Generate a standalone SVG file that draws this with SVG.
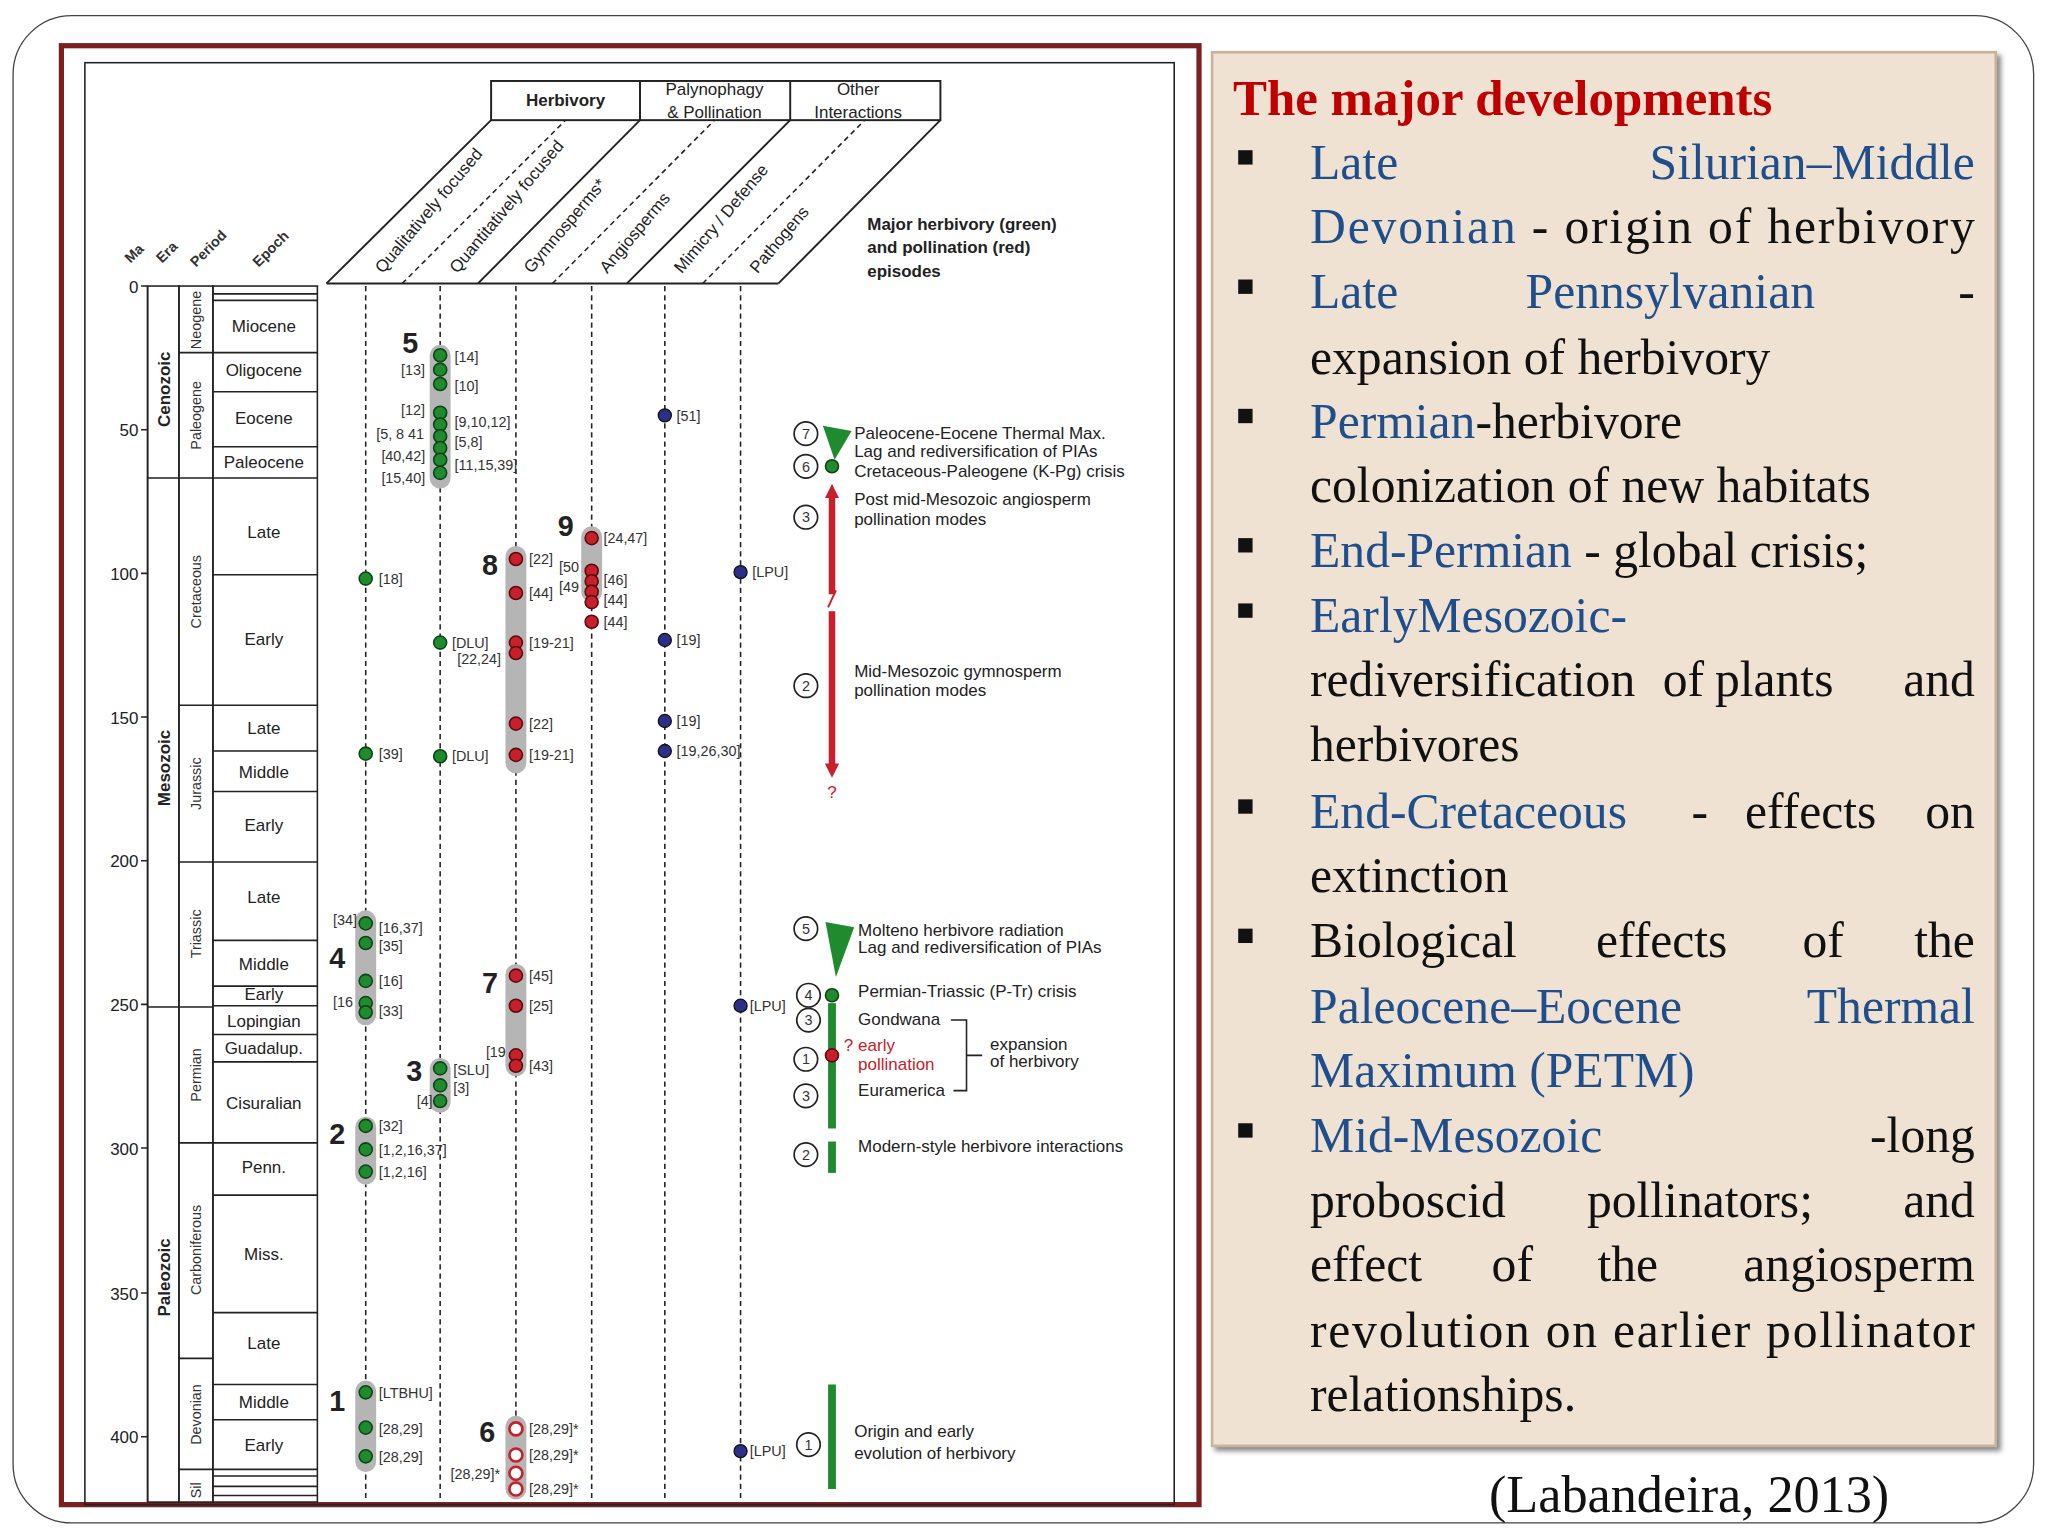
<svg xmlns="http://www.w3.org/2000/svg" width="2048" height="1536" viewBox="0 0 2048 1536">
<defs>
<style>
.s{font-family:"Liberation Sans",Arial,sans-serif;font-size:13px;fill:#222}
.sm{font-family:"Liberation Sans",Arial,sans-serif;font-size:11px;fill:#333}
.b{font-weight:bold}
.num{font-family:"Liberation Sans",Arial,sans-serif;font-size:22px;font-weight:bold;fill:#222}
.t{font-family:"Liberation Serif","Times New Roman",serif;font-size:38px;fill:#111}
.bl{fill:#1f4e8c}
.dash{stroke:#222;stroke-width:1.2;stroke-dasharray:4 3;fill:none}
.g{fill:#1f8a2e;stroke:#0d4416;stroke-width:1.2}
.r{fill:#c8202a;stroke:#5a0a0a;stroke-width:1.2}
.o{fill:#fff;stroke:#c8202a;stroke-width:2}
.u{fill:#2c2f86;stroke:#111;stroke-width:1}
.cap{fill:#b5b5b5}
.box{fill:none;stroke:#222;stroke-width:1.5}
.cn{fill:#fff;stroke:#222;stroke-width:1.3}
</style>
<marker id="ah" viewBox="0 0 10 10" refX="5" refY="5" markerWidth="2.2" markerHeight="2.2" orient="auto-start-reverse"><path d="M0,0 L10,5 L0,10 z" fill="#c8202a"/></marker>
<filter id="sh"><feDropShadow dx="3" dy="3" stdDeviation="2" flood-color="#888"/></filter>
</defs>
<rect width="2048" height="1536" fill="#fff"/>
<g transform="scale(1.30612)">
<rect x="10" y="12" width="1547" height="1154" rx="45" fill="none" stroke="#444" stroke-width="1"/>
<g id="chart">
<rect x="47" y="35" width="871" height="1117" fill="#fff" stroke="#7a2020" stroke-width="4"/>
<rect x="65" y="48" width="834" height="1104" fill="none" stroke="#222" stroke-width="1.2"/>
<rect x="376" y="62" width="344" height="30" class="box"/>
<line x1="490" y1="62" x2="490" y2="92" stroke="#222" stroke-width="1.5"/>
<line x1="605" y1="62" x2="605" y2="92" stroke="#222" stroke-width="1.5"/>
<text class="s b" x="433" y="81" text-anchor="middle">Herbivory</text>
<text class="s" x="547" y="73" text-anchor="middle">Palynophagy</text>
<text class="s" x="547" y="90" text-anchor="middle">&amp; Pollination</text>
<text class="s" x="657" y="73" text-anchor="middle">Other</text>
<text class="s" x="657" y="90" text-anchor="middle">Interactions</text>
<g stroke="#222" stroke-width="1.5" fill="none">
<line x1="250" y1="217" x2="376" y2="92"/><line x1="366" y1="217" x2="490" y2="92"/><line x1="480" y1="217" x2="605" y2="92"/><line x1="596" y1="217" x2="720" y2="92"/>
<line x1="250" y1="217" x2="596" y2="217"/>
</g>
<g class="dash"><line x1="308" y1="217" x2="433" y2="92"/><line x1="423" y1="217" x2="547" y2="92"/><line x1="538" y1="217" x2="662" y2="92"/></g>
<g class="s">
<text transform="translate(293,210) rotate(-50)">Qualitatively focused</text>
<text transform="translate(350,210) rotate(-50)">Quantitatively focused</text>
<text transform="translate(407,210) rotate(-50)">Gymnosperms*</text>
<text transform="translate(465,210) rotate(-50)">Angiosperms</text>
<text transform="translate(522,210) rotate(-50)">Mimicry / Defense</text>
<text transform="translate(580,210) rotate(-50)">Pathogens</text>
<text transform="translate(100,202) rotate(-45)" class="sm b">Ma</text>
<text transform="translate(124,202) rotate(-45)" class="sm b">Era</text>
<text transform="translate(150,205) rotate(-45)" class="sm b">Period</text>
<text transform="translate(198,205) rotate(-45)" class="sm b">Epoch</text>
<text x="664" y="176" class="b">Major herbivory (green)</text>
<text x="664" y="194" class="b">and pollination (red)</text>
<text x="664" y="212" class="b">episodes</text>
</g>
<g stroke="#222" stroke-width="1.2" fill="none">
<line x1="113" y1="219" x2="113" y2="1150"/>
<rect x="113" y="219" width="24" height="931"/>
<rect x="137" y="219" width="26" height="931"/>
<rect x="163" y="219" width="80" height="931"/>
<path d="M113,366H137M113,771H137M137,270H163M137,366H163M137,540H163M137,660H163M137,771H163M137,875H163M137,1040H163M137,1125H163"/>
<path d="M163,225H243M163,230H243M163,270H243M163,300H243M163,342H243M163,366H243M163,440H243M163,540H243M163,575H243M163,606H243M163,660H243M163,720H243M163,755H243M163,770H243M163,792H243M163,813H243M163,875H243M163,915H243M163,1005H243M163,1060H243M163,1087H243M163,1125H243M163,1130H243M163,1138H243M163,1145H243"/>
<path d="M108,219H113M108,329H113M108,439H113M108,549H113M108,659H113M108,769H113M108,879H113M108,990H113M108,1100H113"/>
</g>
<g class="s" text-anchor="end">
<text x="106" y="224">0</text><text x="106" y="334">50</text><text x="106" y="444">100</text><text x="106" y="554">150</text><text x="106" y="664">200</text><text x="106" y="774">250</text><text x="106" y="884">300</text><text x="106" y="995">350</text><text x="106" y="1105">400</text>
</g>
<g class="s b" text-anchor="middle">
<text transform="translate(130,298) rotate(-90)">Cenozoic</text>
<text transform="translate(130,588) rotate(-90)">Mesozoic</text>
<text transform="translate(130,978) rotate(-90)">Paleozoic</text>
</g>
<g class="sm" text-anchor="middle">
<text transform="translate(154,245) rotate(-90)">Neogene</text>
<text transform="translate(154,318) rotate(-90)">Paleogene</text>
<text transform="translate(154,453) rotate(-90)">Cretaceous</text>
<text transform="translate(154,600) rotate(-90)">Jurassic</text>
<text transform="translate(154,715) rotate(-90)">Triassic</text>
<text transform="translate(154,823) rotate(-90)">Permian</text>
<text transform="translate(154,957) rotate(-90)">Carboniferous</text>
<text transform="translate(154,1083) rotate(-90)">Devonian</text>
<text transform="translate(154,1141) rotate(-90)">Sil</text>
</g>
<g class="s" text-anchor="middle">
<text x="202" y="254">Miocene</text><text x="202" y="288">Oligocene</text><text x="202" y="325">Eocene</text><text x="202" y="358">Paleocene</text>
<text x="202" y="412">Late</text><text x="202" y="494">Early</text><text x="202" y="562">Late</text><text x="202" y="596">Middle</text><text x="202" y="636">Early</text>
<text x="202" y="691">Late</text><text x="202" y="743">Middle</text><text x="202" y="766">Early</text><text x="202" y="786">Lopingian</text><text x="202" y="807">Guadalup.</text>
<text x="202" y="849">Cisuralian</text><text x="202" y="898">Penn.</text><text x="202" y="965">Miss.</text><text x="202" y="1033">Late</text><text x="202" y="1078">Middle</text><text x="202" y="1111">Early</text>
</g>
<g class="dash"><line x1="280" y1="219" x2="280" y2="1150"/><line x1="337" y1="219" x2="337" y2="1150"/><line x1="395" y1="219" x2="395" y2="1150"/><line x1="453" y1="219" x2="453" y2="1150"/><line x1="509" y1="219" x2="509" y2="1150"/><line x1="567" y1="219" x2="567" y2="1150"/></g>
</g>
<g id="nodes">
<g class="cap">
<rect x="272" y="697" width="16" height="88" rx="8"/><rect x="272" y="855" width="16" height="52" rx="8"/><rect x="272" y="1057" width="16" height="70" rx="8"/>
<rect x="329" y="264" width="16" height="110" rx="8"/><rect x="329" y="810" width="16" height="42" rx="8"/>
<rect x="387" y="418" width="16" height="174" rx="8"/><rect x="387" y="738" width="16" height="86" rx="8"/><rect x="387" y="1084" width="16" height="64" rx="8"/>
<rect x="445" y="403" width="16" height="58" rx="8"/>
</g>
<g class="g">
<circle cx="280" cy="707" r="5"/><circle cx="280" cy="722" r="5"/><circle cx="280" cy="751" r="5"/><circle cx="280" cy="768" r="5"/><circle cx="280" cy="775" r="5"/>
<circle cx="280" cy="862" r="5"/><circle cx="280" cy="880" r="5"/><circle cx="280" cy="897" r="5"/>
<circle cx="280" cy="1066" r="5"/><circle cx="280" cy="1093" r="5"/><circle cx="280" cy="1115" r="5"/>
<circle cx="280" cy="443" r="5"/><circle cx="280" cy="577" r="5"/>
<circle cx="337" cy="272" r="5"/><circle cx="337" cy="283" r="5"/><circle cx="337" cy="294" r="5"/><circle cx="337" cy="316" r="5"/><circle cx="337" cy="325" r="5"/><circle cx="337" cy="334" r="5"/><circle cx="337" cy="343" r="5"/><circle cx="337" cy="352" r="5"/><circle cx="337" cy="362" r="5"/>
<circle cx="337" cy="492" r="5"/><circle cx="337" cy="579" r="5"/>
<circle cx="337" cy="818" r="5"/><circle cx="337" cy="831" r="5"/><circle cx="337" cy="843" r="5"/>
<circle cx="637" cy="357" r="5"/><circle cx="637" cy="762" r="5"/>
</g>
<g class="r">
<circle cx="395" cy="428" r="5"/><circle cx="395" cy="454" r="5"/><circle cx="395" cy="492" r="5"/><circle cx="395" cy="500" r="5"/><circle cx="395" cy="554" r="5"/><circle cx="395" cy="578" r="5"/>
<circle cx="395" cy="747" r="5"/><circle cx="395" cy="770" r="5"/><circle cx="395" cy="808" r="5"/><circle cx="395" cy="816" r="5"/>
<circle cx="453" cy="412" r="5"/><circle cx="453" cy="437" r="5"/><circle cx="453" cy="445" r="5"/><circle cx="453" cy="453" r="5"/><circle cx="453" cy="461" r="5"/><circle cx="453" cy="476" r="5"/>
</g>
<g class="o"><circle cx="395" cy="1094" r="5"/><circle cx="395" cy="1114" r="5"/><circle cx="395" cy="1128" r="5"/><circle cx="395" cy="1140" r="5"/></g>
<g class="u">
<circle cx="509" cy="318" r="5"/><circle cx="509" cy="490" r="5"/><circle cx="509" cy="552" r="5"/><circle cx="509" cy="575" r="5"/>
<circle cx="567" cy="438" r="5"/><circle cx="567" cy="770" r="5"/><circle cx="567" cy="1111" r="5"/>
</g>
<g class="num">
<text x="252" y="741">4</text><text x="252" y="876">2</text><text x="252" y="1080">1</text><text x="308" y="270">5</text><text x="311" y="828">3</text>
<text x="369" y="440">8</text><text x="369" y="760">7</text><text x="367" y="1104">6</text><text x="427" y="410">9</text>
</g>
<g class="sm">
<text x="255" y="708">[34]</text><text x="290" y="714">[16,37]</text><text x="290" y="728">[35]</text><text x="290" y="755">[16]</text><text x="255" y="771">[16</text><text x="290" y="778">[33]</text>
<text x="290" y="866">[32]</text><text x="290" y="884">[1,2,16,37]</text><text x="290" y="901">[1,2,16]</text>
<text x="290" y="1070">[LTBHU]</text><text x="290" y="1098">[28,29]</text><text x="290" y="1119">[28,29]</text>
<text x="290" y="447">[18]</text><text x="290" y="581">[39]</text>
<text x="348" y="277">[14]</text><text x="307" y="287">[13]</text><text x="348" y="299">[10]</text><text x="307" y="318">[12]</text><text x="348" y="327">[9,10,12]</text><text x="288" y="336">[5, 8 41</text><text x="348" y="342">[5,8]</text><text x="292" y="353">[40,42]</text><text x="348" y="360">[11,15,39]</text><text x="292" y="370">[15,40]</text>
<text x="346" y="496">[DLU]</text><text x="350" y="508">[22,24]</text><text x="346" y="583">[DLU]</text>
<text x="347" y="823">[SLU]</text><text x="319" y="847">[4]</text><text x="347" y="837">[3]</text>
<text x="405" y="432">[22]</text><text x="405" y="458">[44]</text><text x="405" y="496">[19-21]</text><text x="405" y="558">[22]</text><text x="405" y="582">[19-21]</text>
<text x="405" y="751">[45]</text><text x="405" y="774">[25]</text><text x="372" y="809">[19</text><text x="405" y="820">[43]</text>
<text x="405" y="1098">[28,29]*</text><text x="405" y="1118">[28,29]*</text><text x="345" y="1132">[28,29]*</text><text x="405" y="1144">[28,29]*</text>
<text x="462" y="416">[24,47]</text><text x="428" y="438">[50</text><text x="428" y="453">[49</text><text x="462" y="448">[46]</text><text x="462" y="463">[44]</text><text x="462" y="480">[44]</text>
<text x="518" y="322">[51]</text><text x="518" y="494">[19]</text><text x="518" y="556">[19]</text><text x="518" y="579">[19,26,30]</text>
<text x="576" y="442">[LPU]</text><text x="574" y="774">[LPU]</text><text x="574" y="1115">[LPU]</text>
</g>
<g class="cn">
<circle cx="617" cy="332" r="9"/><circle cx="617" cy="357" r="9"/><circle cx="617" cy="396" r="9"/><circle cx="617" cy="525" r="9"/>
<circle cx="617" cy="711" r="9"/><circle cx="619" cy="762" r="9"/><circle cx="619" cy="781" r="9"/><circle cx="617" cy="811" r="9"/><circle cx="617" cy="839" r="9"/><circle cx="617" cy="884" r="9"/><circle cx="619" cy="1106" r="9"/>
</g>
<g class="sm" text-anchor="middle">
<text x="617" y="336">7</text><text x="617" y="361">6</text><text x="617" y="400">3</text><text x="617" y="529">2</text><text x="617" y="715">5</text><text x="619" y="766">4</text><text x="619" y="785">3</text><text x="617" y="815">1</text><text x="617" y="843">3</text><text x="617" y="888">2</text><text x="619" y="1110">1</text>
</g>
<path d="M630,326 L652,330 L639,352 Z" fill="#1f8a2e"/>
<path d="M632,706 L654,710 L640,748 Z" fill="#1f8a2e"/>
<line x1="637" y1="376" x2="637" y2="455" stroke="#c8202a" stroke-width="5" marker-start="url(#ah)"/>
<line x1="637" y1="468" x2="637" y2="590" stroke="#c8202a" stroke-width="5" marker-end="url(#ah)"/>
<line x1="634" y1="465" x2="640" y2="452" stroke="#c8202a" stroke-width="1.5"/>
<text x="637" y="611" class="s" style="fill:#c8202a" text-anchor="middle">?</text>
<rect x="634" y="768" width="6" height="96" fill="#1f8a2e"/>
<circle cx="637" cy="808" r="5" class="r"/>
<rect x="634" y="874" width="6" height="24" fill="#1f8a2e"/>
<rect x="634" y="1060" width="6" height="80" fill="#1f8a2e"/>
<g class="s">
<text x="654" y="336">Paleocene-Eocene Thermal Max.</text><text x="654" y="350">Lag and rediversification of PIAs</text><text x="654" y="365">Cretaceous-Paleogene (K-Pg) crisis</text>
<text x="654" y="387">Post mid-Mesozoic angiosperm</text><text x="654" y="402">pollination modes</text>
<text x="654" y="518">Mid-Mesozoic gymnosperm</text><text x="654" y="533">pollination modes</text>
<text x="657" y="717">Molteno herbivore radiation</text><text x="657" y="730">Lag and rediversification of PIAs</text>
<text x="657" y="763">Permian-Triassic (P-Tr) crisis</text><text x="657" y="785">Gondwana</text>
<text x="657" y="805" style="fill:#c8202a">early</text><text x="657" y="819" style="fill:#c8202a">pollination</text><text x="646" y="805" style="fill:#c8202a">?</text>
<text x="657" y="839">Euramerica</text>
<text x="758" y="804">expansion</text><text x="758" y="817">of herbivory</text>
<text x="657" y="882">Modern-style herbivore interactions</text>
<text x="654" y="1100">Origin and early</text><text x="654" y="1117">evolution of herbivory</text>
</g>
<path d="M728,781 H740 V835 H730 M740,808 H752" fill="none" stroke="#222" stroke-width="1.2"/>
</g>
<g id="panel">
<rect x="928" y="40" width="600" height="1067" fill="#efe2d3" stroke="#c9b29a" stroke-width="2" filter="url(#sh)"/>
<text x="944" y="88" style="font-family:'Liberation Serif','Times New Roman',serif;font-size:39px;font-weight:bold;fill:#c00000">The major developments</text>
<g fill="#111">
<rect x="948" y="115" width="11" height="11"/><rect x="948" y="214" width="11" height="11"/><rect x="948" y="313" width="11" height="11"/><rect x="948" y="412" width="11" height="11"/><rect x="948" y="462" width="11" height="11"/><rect x="948" y="612" width="11" height="11"/><rect x="948" y="711" width="11" height="11"/><rect x="948" y="860" width="11" height="11"/>
</g>
<g class="t">
<text x="1003" y="137" class="bl">Late</text><text x="1512" y="137" text-anchor="end" class="bl">Silurian–Middle</text>
<text x="1003" y="186" textLength="509" lengthAdjust="spacing"><tspan class="bl">Devonian</tspan> - origin of herbivory</text>
<text x="1003" y="236" class="bl">Late</text><text x="1168" y="236" class="bl">Pennsylvanian</text><text x="1512" y="236" text-anchor="end">-</text>
<text x="1003" y="286">expansion of herbivory</text>
<text x="1003" y="335"><tspan class="bl">Permian</tspan>-herbivore</text>
<text x="1003" y="384">colonization of new habitats</text>
<text x="1003" y="434"><tspan class="bl">End-Permian</tspan> - global crisis;</text>
<text x="1003" y="484" class="bl">EarlyMesozoic-</text>
<text x="1003" y="533">rediversification</text><text x="1273" y="533">of</text><text x="1313" y="533">plants</text><text x="1512" y="533" text-anchor="end">and</text>
<text x="1003" y="583">herbivores</text>
<text x="1003" y="634" class="bl">End-Cretaceous</text><text x="1295" y="634">-</text><text x="1336" y="634">effects</text><text x="1512" y="634" text-anchor="end">on</text>
<text x="1003" y="683">extinction</text>
<text x="1003" y="733">Biological</text><text x="1222" y="733">effects</text><text x="1380" y="733">of</text><text x="1512" y="733" text-anchor="end">the</text>
<text x="1003" y="783" class="bl">Paleocene–Eocene</text><text x="1512" y="783" text-anchor="end" class="bl">Thermal</text>
<text x="1003" y="832" class="bl">Maximum (PETM)</text>
<text x="1003" y="882" class="bl">Mid-Mesozoic</text><text x="1512" y="882" text-anchor="end">-long</text>
<text x="1003" y="932">proboscid</text><text x="1215" y="932">pollinators;</text><text x="1512" y="932" text-anchor="end">and</text>
<text x="1003" y="981">effect</text><text x="1142" y="981">of</text><text x="1223" y="981">the</text><text x="1512" y="981" text-anchor="end">angiosperm</text>
<text x="1003" y="1031" textLength="509" lengthAdjust="spacing">revolution on earlier pollinator</text>
<text x="1003" y="1080">relationships.</text>
</g>
<text x="1140" y="1158" style="font-family:'Liberation Serif','Times New Roman',serif;font-size:40px;fill:#111">(Labandeira, 2013)</text>
</g>
</g>
</svg>
